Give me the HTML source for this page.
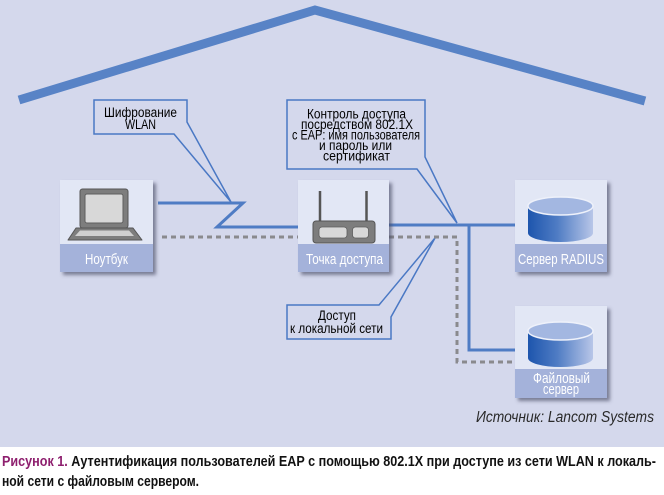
<!DOCTYPE html>
<html><head><meta charset="utf-8"><style>
html,body{margin:0;padding:0;background:#fff;}
svg{display:block;}
text{font-family:"Liberation Sans Narrow","Liberation Sans","DejaVu Sans",sans-serif;}
</style></head><body>
<svg width="664" height="495" viewBox="0 0 664 495" xmlns="http://www.w3.org/2000/svg">
<defs>
<filter id="sh" x="-20%" y="-20%" width="150%" height="150%">
<feDropShadow dx="3" dy="3" stdDeviation="1.8" flood-color="#4a4e66" flood-opacity="0.65"/>
</filter>
<linearGradient id="cyl" x1="0" y1="0" x2="1" y2="0">
<stop offset="0" stop-color="#1d55ad"/>
<stop offset="0.45" stop-color="#4f7cc4"/>
<stop offset="1" stop-color="#b8c6e8"/>
</linearGradient>
</defs>
<rect x="0" y="0" width="664" height="447" fill="#d4d8ec"/>
<rect x="0" y="447" width="664" height="48" fill="#ffffff"/>

<!-- roof -->
<polyline points="19,100 315,10 645,101" fill="none" stroke="#5883c6" stroke-width="9" stroke-linejoin="miter"/>

<!-- callouts -->
<polygon points="94,100 187,100 187,122 231,202 174,134 94,134" fill="#d4d8ec" stroke="#4a78c4" stroke-width="1.5" stroke-linejoin="miter"/>
<polygon points="287,100 425,100 425,157 457,223 417,169 287,169" fill="#d4d8ec" stroke="#4a78c4" stroke-width="1.5"/>
<polygon points="287,305 379,305 435,238 391,317 391,339 287,339" fill="#d4d8ec" stroke="#4a78c4" stroke-width="1.5"/>

<!-- connectors -->
<polyline points="158,203 243,203 217,227 298,227" fill="none" stroke="#4f7cc4" stroke-width="3"/>
<line x1="389" y1="225" x2="515" y2="225" stroke="#4f7cc4" stroke-width="3"/>
<polyline points="469,225 469,350 515,350" fill="none" stroke="#4f7cc4" stroke-width="3"/>
<line x1="162" y1="237" x2="298" y2="237" stroke="#8a8a8e" stroke-width="3" stroke-dasharray="5,4"/>
<polyline points="389,237 457,237 457,362 515,362" fill="none" stroke="#8a8a8e" stroke-width="3" stroke-dasharray="5,4"/>

<!-- node boxes -->
<g filter="url(#sh)">
<rect x="60" y="180" width="93" height="92" fill="#e2e7f5"/>
<rect x="298" y="180" width="91" height="92" fill="#e2e7f5"/>
<rect x="515" y="180" width="92" height="92" fill="#e2e7f5"/>
<rect x="515" y="306" width="92" height="92" fill="#e2e7f5"/>
</g>
<rect x="60" y="244" width="93" height="28" fill="#a4b2da"/>
<rect x="298" y="244" width="91" height="28" fill="#a4b2da"/>
<rect x="515" y="244" width="92" height="28" fill="#a4b2da"/>
<rect x="515" y="369" width="92" height="29" fill="#a4b2da"/>

<!-- laptop -->
<rect x="80" y="189" width="48" height="39" rx="2.5" fill="#7d7d7d" stroke="#555" stroke-width="1"/>
<rect x="85" y="194" width="38" height="29" rx="2" fill="#d8d8d8" stroke="#5e5e5e" stroke-width="1"/>
<polygon points="76,228 133,228 142,240 68,240" fill="#7d7d7d" stroke="#555" stroke-width="1" stroke-linejoin="round"/>
<polygon points="80,230.5 129,230.5 134,236 75,236" fill="#cfcfcf"/>

<!-- router -->
<line x1="320" y1="191" x2="320" y2="222" stroke="#555" stroke-width="2.5"/>
<line x1="366.5" y1="191" x2="366.5" y2="222" stroke="#555" stroke-width="2.5"/>
<rect x="313" y="221" width="62" height="22" rx="3" fill="#7d7d7d" stroke="#555" stroke-width="1"/>
<rect x="319" y="227" width="28" height="11" rx="3" fill="#d8d8d8" stroke="#5e5e5e" stroke-width="0.8"/>
<rect x="352.5" y="227" width="16" height="11" rx="3" fill="#d8d8d8" stroke="#5e5e5e" stroke-width="0.8"/>

<!-- RADIUS cylinder -->
<path d="M528,206 L528,233 A32.5,9 0 0 0 593,233 L593,206 Z" fill="url(#cyl)"/>
<ellipse cx="560.5" cy="206" rx="32.5" ry="9" fill="#a3b7e1" stroke="#eef1fa" stroke-width="1.5"/>
<!-- file server cylinder -->
<path d="M528,331 L528,358 A32.5,9 0 0 0 593,358 L593,331 Z" fill="url(#cyl)"/>
<ellipse cx="560.5" cy="331" rx="32.5" ry="9" fill="#a3b7e1" stroke="#eef1fa" stroke-width="1.5"/>

<!-- callout text -->
<g font-size="13.5" fill="#000">
<text x="104" y="117" textLength="73" lengthAdjust="spacingAndGlyphs">Шифрование</text>
<text x="125" y="129" textLength="31" lengthAdjust="spacingAndGlyphs">WLAN</text>
<text x="307" y="118.3" textLength="99" lengthAdjust="spacingAndGlyphs">Контроль доступа</text>
<text x="301" y="128.8" textLength="112" lengthAdjust="spacingAndGlyphs">посредством 802.1X</text>
<text x="292" y="139.3" textLength="128" lengthAdjust="spacingAndGlyphs">с EAP: имя пользователя</text>
<text x="319" y="150" textLength="73" lengthAdjust="spacingAndGlyphs">и пароль или</text>
<text x="323" y="160.7" textLength="67" lengthAdjust="spacingAndGlyphs">сертификат</text>
<text x="318" y="320" textLength="38" lengthAdjust="spacingAndGlyphs">Доступ</text>
<text x="290" y="333" textLength="93" lengthAdjust="spacingAndGlyphs">к локальной сети</text>
</g>

<!-- node labels -->
<g font-size="14.5" fill="#ffffff">
<text x="85" y="264" textLength="43" lengthAdjust="spacingAndGlyphs">Ноутбук</text>
<text x="306" y="264" textLength="77" lengthAdjust="spacingAndGlyphs">Точка доступа</text>
<text x="518" y="264" textLength="86" lengthAdjust="spacingAndGlyphs">Сервер RADIUS</text>
<text x="533" y="383" textLength="57" lengthAdjust="spacingAndGlyphs">Файловый</text>
<text x="543" y="394" textLength="36" lengthAdjust="spacingAndGlyphs">сервер</text>
</g>

<text x="476" y="422" font-size="15.5" font-style="italic" fill="#2a2a2a" textLength="178" lengthAdjust="spacingAndGlyphs">Источник: Lancom Systems</text>

<!-- caption -->
<text x="2" y="466" font-size="15" font-weight="bold" fill="#111" textLength="654" lengthAdjust="spacingAndGlyphs"><tspan fill="#8e1f6e">Рисунок 1.</tspan> Аутентификация пользователей EAP с помощью 802.1X при доступе из сети WLAN к локаль-</text>
<text x="2" y="486" font-size="15" font-weight="bold" fill="#111" textLength="197" lengthAdjust="spacingAndGlyphs">ной сети с файловым сервером.</text>
</svg>
</body></html>
